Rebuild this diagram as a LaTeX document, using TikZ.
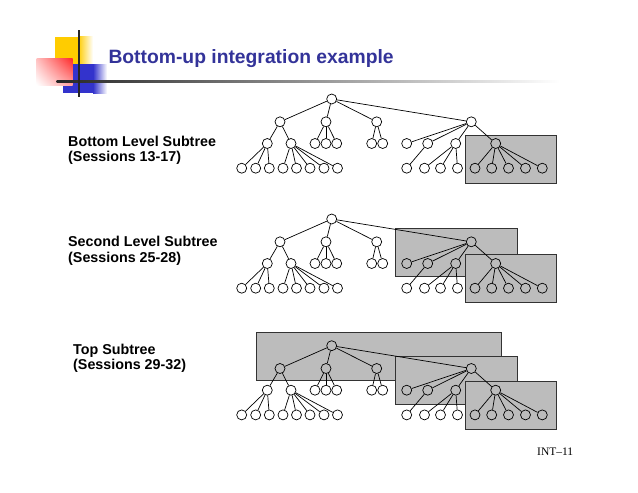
\documentclass[tikz,border=0pt]{standalone}
\usepackage{fontspec}
\usetikzlibrary{shadings}
\setmainfont{Liberation Sans}
\newfontfamily\slideserif{Liberation Serif}
\definecolor{titleblue}{RGB}{51,51,153}
\definecolor{boxgray}{RGB}{188,188,188}
\definecolor{logoyellow}{RGB}{255,204,0}
\definecolor{logored}{RGB}{255,40,40}
\definecolor{logoblue}{RGB}{51,51,204}
\tikzset{
  nd/.style={circle,draw,line width=0.7pt,minimum size=10pt,inner sep=0pt},
  edge/.style={line width=0.7pt},
  sbox/.style={draw=black!80,line width=0.8pt,fill=boxgray},
  lbl/.style={font=\fontsize{14.3}{16}\selectfont\bfseries,anchor=base west,inner sep=0pt}
}
\newcommand\mytree[2]{%
\begin{scope}[shift={(0,#2)}]
  \node[nd] (#1r) at (331.7,0) {};
  \node[nd] (#1a) at (280,22.8) {};
  \node[nd] (#1b) at (326,22.8) {};
  \node[nd] (#1c) at (376.7,22.8) {};
  \node[nd] (#1d) at (471.3,22.8) {};
  \foreach \n/\x in {a1/267.3,a2/291,b1/315,b2/326,b3/336.7,c1/371.7,c2/382.7,d1/406.7,d2/427.7,d3/455.7,d4/495.7}
    \node[nd] (#1\n) at (\x,44.5) {};
  \foreach \n/\x in {a11/241.7,a12/255.7,a13/269.3,a21/283,a22/296.5,a23/310,a24/324,a25/337.5,d21/406.7,d31/424.5,d32/440.5,d33/457.5,d41/475,d42/491.7,d43/508.5,d44/525.5,d45/542.3}
    \node[nd] (#1\n) at (\x,69.2) {};
  \foreach \p/\c in {r/a,r/b,r/c,r/d,a/a1,a/a2,b/b1,b/b2,b/b3,c/c1,c/c2,d/d1,d/d2,d/d3,d/d4,a1/a11,a1/a12,a1/a13,a2/a21,a2/a22,a2/a23,a2/a24,a2/a25,d2/d21,d3/d31,d3/d32,d3/d33,d4/d41,d4/d42,d4/d43,d4/d44,d4/d45}
    \draw[edge] (#1\p) -- (#1\c);
\end{scope}
}
\begin{document}
\begin{tikzpicture}[x=1pt,y=-1pt]
\useasboundingbox (0,0) rectangle (638,493);
% logo
\fill[logoyellow] (55,36.7) rectangle (78,64);
\shade[left color=logoyellow,right color=white] (78,36.7) rectangle (93,64);
\fill[logoblue] (63,64.3) rectangle (93,93.3);
\shade[left color=logoblue,right color=white] (93,64.3) rectangle (107,93.3);
\shade[upper right=logored,upper left=logored!30,lower left=white,lower right=logored!45] (36.7,58.3) rectangle (72.7,85);
\shade[left color=black!85,right color=white] (56.7,80) rectangle (560,82);
\draw[line width=1.6pt,black!85] (79,30) -- (79,96.7);
% title
\node[anchor=base west,inner sep=0pt,font=\fontsize{19.3}{22}\selectfont\bfseries,text=titleblue] (title) at (108.3,63.3) {Bottom-up integration example};
% labels
\node[lbl] (l1a) at (68,146) {Bottom Level Subtree};
\node[lbl] (l1b) at (68,161.5) {(Sessions 13-17)};
\node[lbl] (l2a) at (68,246.7) {Second Level Subtree};
\node[lbl] (l2b) at (68,262) {(Sessions 25-28)};
\node[lbl] (l3a) at (73,354) {Top Subtree};
\node[lbl] (l3b) at (73,369.5) {(Sessions 29-32)};
% boxes
\draw[sbox] (465.7,135) rectangle (556,183.3);
\draw[sbox] (395.7,228.3) rectangle (517.3,276.7);
\draw[sbox] (465.7,254.3) rectangle (556,302.7);
\draw[sbox] (256.7,332.3) rectangle (501.7,380);
\draw[sbox] (395.7,356) rectangle (517.3,404.3);
\draw[sbox] (465.7,381) rectangle (556,429);
% trees
\mytree{t1}{99}
\mytree{t2}{219}
\mytree{t3}{345.7}
% footer
\node[anchor=base west,inner sep=0pt,font=\slideserif\fontsize{11.5}{13}\selectfont] (foot) at (537,455) {INT–11};
\end{tikzpicture}
\end{document}
